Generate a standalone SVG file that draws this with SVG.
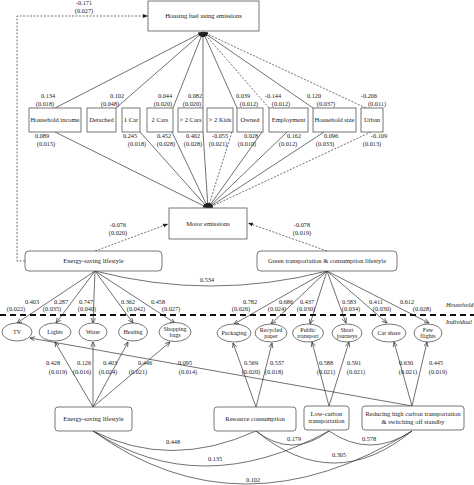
<svg xmlns="http://www.w3.org/2000/svg" width="474" height="485" viewBox="0 0 474 485">
<style>
.box{fill:#fff;stroke:#555;stroke-width:0.8}
.t{font-family:"Liberation Serif",serif;font-size:6.5px;fill:#222;text-anchor:middle}
.e{font-family:"Liberation Serif",serif;font-size:6px;fill:#222;text-anchor:middle}
.n{font-family:"Liberation Serif",serif;font-size:6.3px;fill:#222;text-anchor:middle}
.i{font-family:"Liberation Serif",serif;font-size:6.3px;fill:#222;font-style:italic}
.ln{stroke:#333;stroke-width:0.7;fill:none}
.dl{stroke-dasharray:2,1.5}
.sep{stroke:#111;stroke-width:1.8;stroke-dasharray:6,4;fill:none}
</style>
<defs>
<marker id="a" markerWidth="6" markerHeight="6" refX="5" refY="3" orient="auto" markerUnits="userSpaceOnUse"><path d="M0,0.8 L5,3 L0,5.2" fill="none" stroke="#333" stroke-width="0.7"/></marker>
<marker id="f" markerWidth="6" markerHeight="6" refX="5" refY="3" orient="auto" markerUnits="userSpaceOnUse"><path d="M0,1 L5,3 L0,5 Z" fill="#222"/></marker>
</defs>

<g id="connectors">
<path class="ln" marker-end="url(#f)" d="M55,108 L203,32"/>
<path class="ln" marker-end="url(#f)" d="M116,108 L203,32"/>
<path class="ln" marker-end="url(#f)" d="M173,108 L203,32"/>
<path class="ln" marker-end="url(#f)" d="M203,108 L203,32"/>
<path class="ln" marker-end="url(#f)" d="M237,108 L203,32"/>
<path class="ln dl" marker-end="url(#f)" d="M269,108 L203,32"/>
<path class="ln" marker-end="url(#f)" d="M313,108 L203,32"/>
<path class="ln dl" marker-end="url(#f)" d="M366,108 L203,32"/>
<path class="ln" marker-end="url(#f)" d="M55,132 L208,208"/>
<path class="ln" marker-end="url(#f)" d="M140,132 L208,208"/>
<path class="ln" marker-end="url(#f)" d="M172,132 L208,208"/>
<path class="ln" marker-end="url(#f)" d="M203,132 L208,208"/>
<path class="ln dl" marker-end="url(#f)" d="M232,132 L208,208"/>
<path class="ln" marker-end="url(#f)" d="M262,132 L208,208"/>
<path class="ln" marker-end="url(#f)" d="M287,132 L208,208"/>
<path class="ln" marker-end="url(#f)" d="M324,132 L208,208"/>
<path class="ln dl" marker-end="url(#f)" d="M371,132 L208,208"/>
<path class="ln dl" marker-end="url(#f)" d="M25,261 H17 V16 H148"/>
<path class="ln dl" marker-end="url(#f)" d="M95,251 L168,224"/>
<path class="ln dl" marker-end="url(#f)" d="M327,251 L248,223"/>
<path class="ln" d="M95,271 Q211,301 327,271"/>
<path class="ln" marker-end="url(#a)" d="M95,271 L17,323"/>
<path class="ln" marker-end="url(#a)" d="M95,271 L56,323"/>
<path class="ln" marker-end="url(#a)" d="M95,271 L93,323"/>
<path class="ln" marker-end="url(#a)" d="M95,271 L133,323"/>
<path class="ln" marker-end="url(#a)" d="M95,271 L175,323"/>
<path class="ln" marker-end="url(#a)" d="M327,271 L234,324"/>
<path class="ln" marker-end="url(#a)" d="M327,271 L271,324"/>
<path class="ln" marker-end="url(#a)" d="M327,271 L310,324"/>
<path class="ln" marker-end="url(#a)" d="M327,271 L346,323"/>
<path class="ln" marker-end="url(#a)" d="M327,271 L387,323"/>
<path class="ln" marker-end="url(#a)" d="M327,271 L429,323"/>
<path class="ln" marker-end="url(#a)" d="M93,407 L55,342"/>
<path class="ln" marker-end="url(#a)" d="M93,407 L93,342"/>
<path class="ln" marker-end="url(#a)" d="M93,407 L128,342"/>
<path class="ln" marker-end="url(#a)" d="M93,407 L170,342"/>
<path class="ln" marker-end="url(#a)" d="M412,406 L30,338"/>
<path class="ln" marker-end="url(#a)" d="M256,407 L233,343"/>
<path class="ln" marker-end="url(#a)" d="M256,407 L272,343"/>
<path class="ln" marker-end="url(#a)" d="M329,406 L312,342"/>
<path class="ln" marker-end="url(#a)" d="M329,406 L349,342"/>
<path class="ln" marker-end="url(#a)" d="M412,406 L394,342"/>
<path class="ln" marker-end="url(#a)" d="M412,406 L427,342"/>
<path class="ln" d="M93,431 Q170,470 256,431"/>
<path class="ln" d="M93,431 Q200,501 329,431"/>
<path class="ln" d="M93,431 Q240,537 412,431"/>
<path class="ln" d="M256,431 Q292,459 329,431"/>
<path class="ln" d="M256,431 Q334,495 412,431"/>
<path class="ln" d="M329,431 Q370,459 412,431"/>
</g>

<g id="separator">
<path class="sep" d="M0,315 H474"/>
<text class="i" x="446" y="307">Household</text>
<text class="i" x="446" y="324">Individual</text>
</g>

<g id="housing"><rect class="box" x="148" y="1" width="111" height="30"/><text class="t" x="203.5" y="18">Housing fuel using emissions</text></g>
<g id="motor"><rect class="box" x="169" y="208" width="78" height="31"/><text class="t" x="208" y="226">Motor emissions</text></g>

<g id="hh-income"><rect class="box" x="29" y="108" width="52" height="24"/><text class="t" x="55" y="122.3">Household income</text></g>
<g id="detached"><rect class="box" x="87" y="108" width="29" height="24"/><text class="t" x="101.5" y="122.3">Detached</text></g>
<g id="car1"><rect class="box" x="122" y="108" width="18" height="24"/><text class="t" x="131" y="122.3">1 Car</text></g>
<g id="car2"><rect class="box" x="147" y="108" width="26" height="24"/><text class="t" x="160" y="122.3">2 Cars</text></g>
<g id="car3"><rect class="box" x="178" y="108" width="25" height="24"/><text class="t" x="190.5" y="122.3">&gt; 2 Cars</text></g>
<g id="kids"><rect class="box" x="207" y="108" width="26" height="24"/><text class="t" x="220" y="122.3">&gt; 2 Kids</text></g>
<g id="owned"><rect class="box" x="237" y="108" width="26" height="24"/><text class="t" x="250" y="122.3">Owned</text></g>
<g id="employment"><rect class="box" x="269" y="108" width="39" height="24"/><text class="t" x="288.5" y="122.3">Employment</text></g>
<g id="hh-size"><rect class="box" x="313" y="108" width="43" height="24"/><text class="t" x="334.5" y="122.3">Household size</text></g>
<g id="urban"><rect class="box" x="361" y="108" width="22" height="24"/><text class="t" x="372" y="122.3">Urban</text></g>

<g id="es-upper"><rect class="box" x="25" y="251" width="137" height="20" rx="4"/><text class="t" x="93.5" y="263.3">Energy-saving lifestyle</text></g>
<g id="green"><rect class="box" x="257" y="251" width="140" height="20" rx="4"/><text class="t" x="327" y="263.3">Green transportation &amp; consumption lifestyle</text></g>

<g id="tv"><ellipse class="box" cx="17" cy="332" rx="15" ry="9"/><text class="e" x="17" y="334.2">TV</text></g>
<g id="lights"><ellipse class="box" cx="55" cy="332" rx="16" ry="9"/><text class="e" x="55" y="334.2">Lights</text></g>
<g id="water"><ellipse class="box" cx="93" cy="332" rx="14" ry="9"/><text class="e" x="93" y="334.2">Water</text></g>
<g id="heating"><ellipse class="box" cx="133" cy="332" rx="14.5" ry="9"/><text class="e" x="133" y="334.2">Heating</text></g>
<g id="shopping"><ellipse class="box" cx="175" cy="332" rx="16" ry="9.5"/><text class="e" x="175" y="330.5">Shopping</text><text class="e" x="175" y="337.3">bags</text></g>
<g id="packaging"><ellipse class="box" cx="234" cy="333" rx="17" ry="9"/><text class="e" x="234" y="335.2">Packaging</text></g>
<g id="recycled"><ellipse class="box" cx="271" cy="333" rx="16" ry="9"/><text class="e" x="271" y="331.5">Recycled</text><text class="e" x="271" y="338.3">paper</text></g>
<g id="public"><ellipse class="box" cx="308" cy="333" rx="15.5" ry="9"/><text class="e" x="308" y="331.5">Public</text><text class="e" x="308" y="338.3">transport</text></g>
<g id="short"><ellipse class="box" cx="347" cy="333" rx="15" ry="9"/><text class="e" x="347" y="331.5">Short</text><text class="e" x="347" y="338.3">journeys</text></g>
<g id="carshare"><ellipse class="box" cx="389" cy="333" rx="17" ry="9"/><text class="e" x="389" y="335.2">Car share</text></g>
<g id="flights"><ellipse class="box" cx="428" cy="333" rx="14" ry="9"/><text class="e" x="428" y="331.5">Few</text><text class="e" x="428" y="338.3">flights</text></g>

<g id="es-lower"><rect class="box" x="55" y="407" width="77" height="24" rx="3"/><text class="t" x="93.5" y="421.3">Energy-saving lifestyle</text></g>
<g id="resource"><rect class="box" x="214" y="407" width="82" height="24" rx="3"/><text class="t" x="255" y="421.3">Resource consumption</text></g>
<g id="lowcarbon"><rect class="box" x="304" y="406" width="45" height="24" rx="3"/><text class="t" x="326.5" y="415.5">Low-carbon</text><text class="t" x="326.5" y="423.3">transportation</text></g>
<g id="reducing"><rect class="box" x="362" y="406" width="102" height="24" rx="3"/><text class="t" x="413" y="415.8">Reducing high carbon transportation</text><text class="t" x="413" y="423.6">&amp; switching off standby</text></g>

<g id="labels">
<text class="n" x="84" y="5">-0.171</text><text class="n" x="84" y="13">(0.027)</text>
<text class="n" x="48" y="98">0.134</text><text class="n" x="45" y="105.5">(0.018)</text>
<text class="n" x="117" y="98">0.102</text><text class="n" x="110" y="105.5">(0.048)</text>
<text class="n" x="165" y="98">0.044</text><text class="n" x="163" y="105.5">(0.020)</text>
<text class="n" x="195" y="98">0.082</text><text class="n" x="192" y="105.5">(0.020)</text>
<text class="n" x="243" y="98">0.039</text><text class="n" x="249" y="105.5">(0.012)</text>
<text class="n" x="273" y="98">-0.144</text><text class="n" x="281" y="105.5">(0.012)</text>
<text class="n" x="314" y="98">0.120</text><text class="n" x="326" y="105.5">(0.037)</text>
<text class="n" x="369" y="98">-0.206</text><text class="n" x="377" y="105.5">(0.011)</text>
<text class="n" x="42" y="137.5">0.089</text><text class="n" x="46" y="145.5">(0.015)</text>
<text class="n" x="130" y="137.5">0.245</text><text class="n" x="137" y="145.5">(0.018)</text>
<text class="n" x="164" y="137.5">0.452</text><text class="n" x="166" y="145.5">(0.028)</text>
<text class="n" x="193" y="137.5">0.402</text><text class="n" x="193" y="145.5">(0.028)</text>
<text class="n" x="220" y="137.5">-0.055</text><text class="n" x="218" y="145.5">(0.021)</text>
<text class="n" x="251" y="137.5">0.028</text><text class="n" x="247" y="145.5">(0.010)</text>
<text class="n" x="294" y="137.5">0.162</text><text class="n" x="288" y="145.5">(0.012)</text>
<text class="n" x="331" y="137.5">0.096</text><text class="n" x="325" y="145.5">(0.033)</text>
<text class="n" x="379" y="137.5">-0.109</text><text class="n" x="372" y="145.5">(0.013)</text>
<text class="n" x="118" y="226.5">-0.076</text><text class="n" x="118" y="234.5">(0.020)</text>
<text class="n" x="302" y="226.5">-0.078</text><text class="n" x="302" y="234.5">(0.019)</text>
<text class="n" x="207" y="281.5">0.534</text>
<text class="n" x="32" y="303.5">0.403</text><text class="n" x="16" y="310.5">(0.022)</text>
<text class="n" x="61" y="303.5">0.287</text><text class="n" x="52" y="310.5">(0.035)</text>
<text class="n" x="86" y="303.5">0.747</text><text class="n" x="87" y="310.5">(0.040)</text>
<text class="n" x="128" y="303.5">0.362</text><text class="n" x="136" y="310.5">(0.042)</text>
<text class="n" x="158" y="303.5">0.458</text><text class="n" x="171" y="310.5">(0.027)</text>
<text class="n" x="250" y="303.5">0.782</text><text class="n" x="241" y="310.5">(0.026)</text>
<text class="n" x="286" y="303.5">0.686</text><text class="n" x="277" y="310.5">(0.024)</text>
<text class="n" x="307" y="303.5">0.437</text><text class="n" x="306" y="310.5">(0.030)</text>
<text class="n" x="349" y="303.5">0.583</text><text class="n" x="351" y="310.5">(0.034)</text>
<text class="n" x="376" y="303.5">0.411</text><text class="n" x="382" y="310.5">(0.030)</text>
<text class="n" x="407" y="303.5">0.612</text><text class="n" x="422" y="310.5">(0.028)</text>
<text class="n" x="53" y="365">0.428</text><text class="n" x="58" y="373.5">(0.019)</text>
<text class="n" x="84" y="365">0.126</text><text class="n" x="82" y="373.5">(0.016)</text>
<text class="n" x="110" y="365">0.403</text><text class="n" x="108" y="373.5">(0.024)</text>
<text class="n" x="145" y="365">0.446</text><text class="n" x="138" y="373.5">(0.021)</text>
<text class="n" x="185" y="365">0.095</text><text class="n" x="188" y="373.5">(0.014)</text>
<text class="n" x="251" y="365">0.569</text><text class="n" x="251" y="373.5">(0.020)</text>
<text class="n" x="277" y="365">0.537</text><text class="n" x="274" y="373.5">(0.018)</text>
<text class="n" x="326" y="365">0.588</text><text class="n" x="326" y="373.5">(0.021)</text>
<text class="n" x="354" y="365">0.591</text><text class="n" x="356" y="373.5">(0.021)</text>
<text class="n" x="406" y="365">0.630</text><text class="n" x="408" y="373.5">(0.021)</text>
<text class="n" x="436" y="365">0.445</text><text class="n" x="438" y="373.5">(0.019)</text>
<text class="n" x="173" y="443.5">0.448</text>
<text class="n" x="215" y="461">0.135</text>
<text class="n" x="253" y="481.5">0.102</text>
<text class="n" x="294" y="441">0.179</text>
<text class="n" x="369" y="441">0.578</text>
<text class="n" x="339" y="457">0.305</text>
</g>
</svg>
